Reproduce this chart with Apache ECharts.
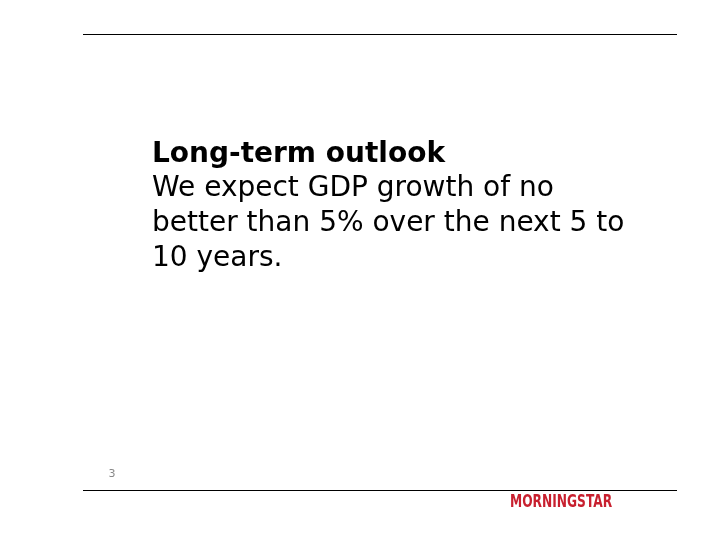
<!DOCTYPE html>
<html><head><meta charset="utf-8">
<script src="https://cdn.jsdelivr.net/npm/echarts@6/dist/echarts.min.js"></script>
<style>html,body{margin:0;padding:0;background:#fff}#c{width:720px;height:540px}</style>
</head><body><div id="c"></div>
<script>
const heading = "Long-term outlook";
const bodyLines = ["We expect GDP growth of no", "better than 5% over the next 5 to", "10 years."];
const pageNumber = "3";
const logoText = "MORNINGSTAR";

const chart = echarts.init(document.getElementById('c'));
const font = '"DejaVu Sans", "Noto Sans", sans-serif';
chart.setOption({
  backgroundColor: '#fff',
  graphic: [
    {type:'line', shape:{x1:83,y1:34.5,x2:677,y2:34.5}, style:{stroke:'#000',lineWidth:1}},
    {type:'line', shape:{x1:83,y1:490.5,x2:677,y2:490.5}, style:{stroke:'#000',lineWidth:1}},
    {type:'text', x:152, y:155, style:{text:heading, font:'bold 28px '+font, fill:'#000', verticalAlign:'middle'}},
    {type:'text', x:152, y:171, style:{text:bodyLines.join('\n'), font:'28px '+font, fill:'#000', lineHeight:35, verticalAlign:'top'}},
    {type:'text', x:112, y:474, style:{text:pageNumber, font:'11px '+font, fill:'#888', align:'center', verticalAlign:'middle'}},
    {type:'text', x:510, y:503, scaleX:0.8, style:{text:logoText, font:'bold 17px "Liberation Sans Narrow", "DejaVu Sans Condensed", sans-serif', fill:'#c8202f', verticalAlign:'middle'}}
  ]
});
</script></body></html>
